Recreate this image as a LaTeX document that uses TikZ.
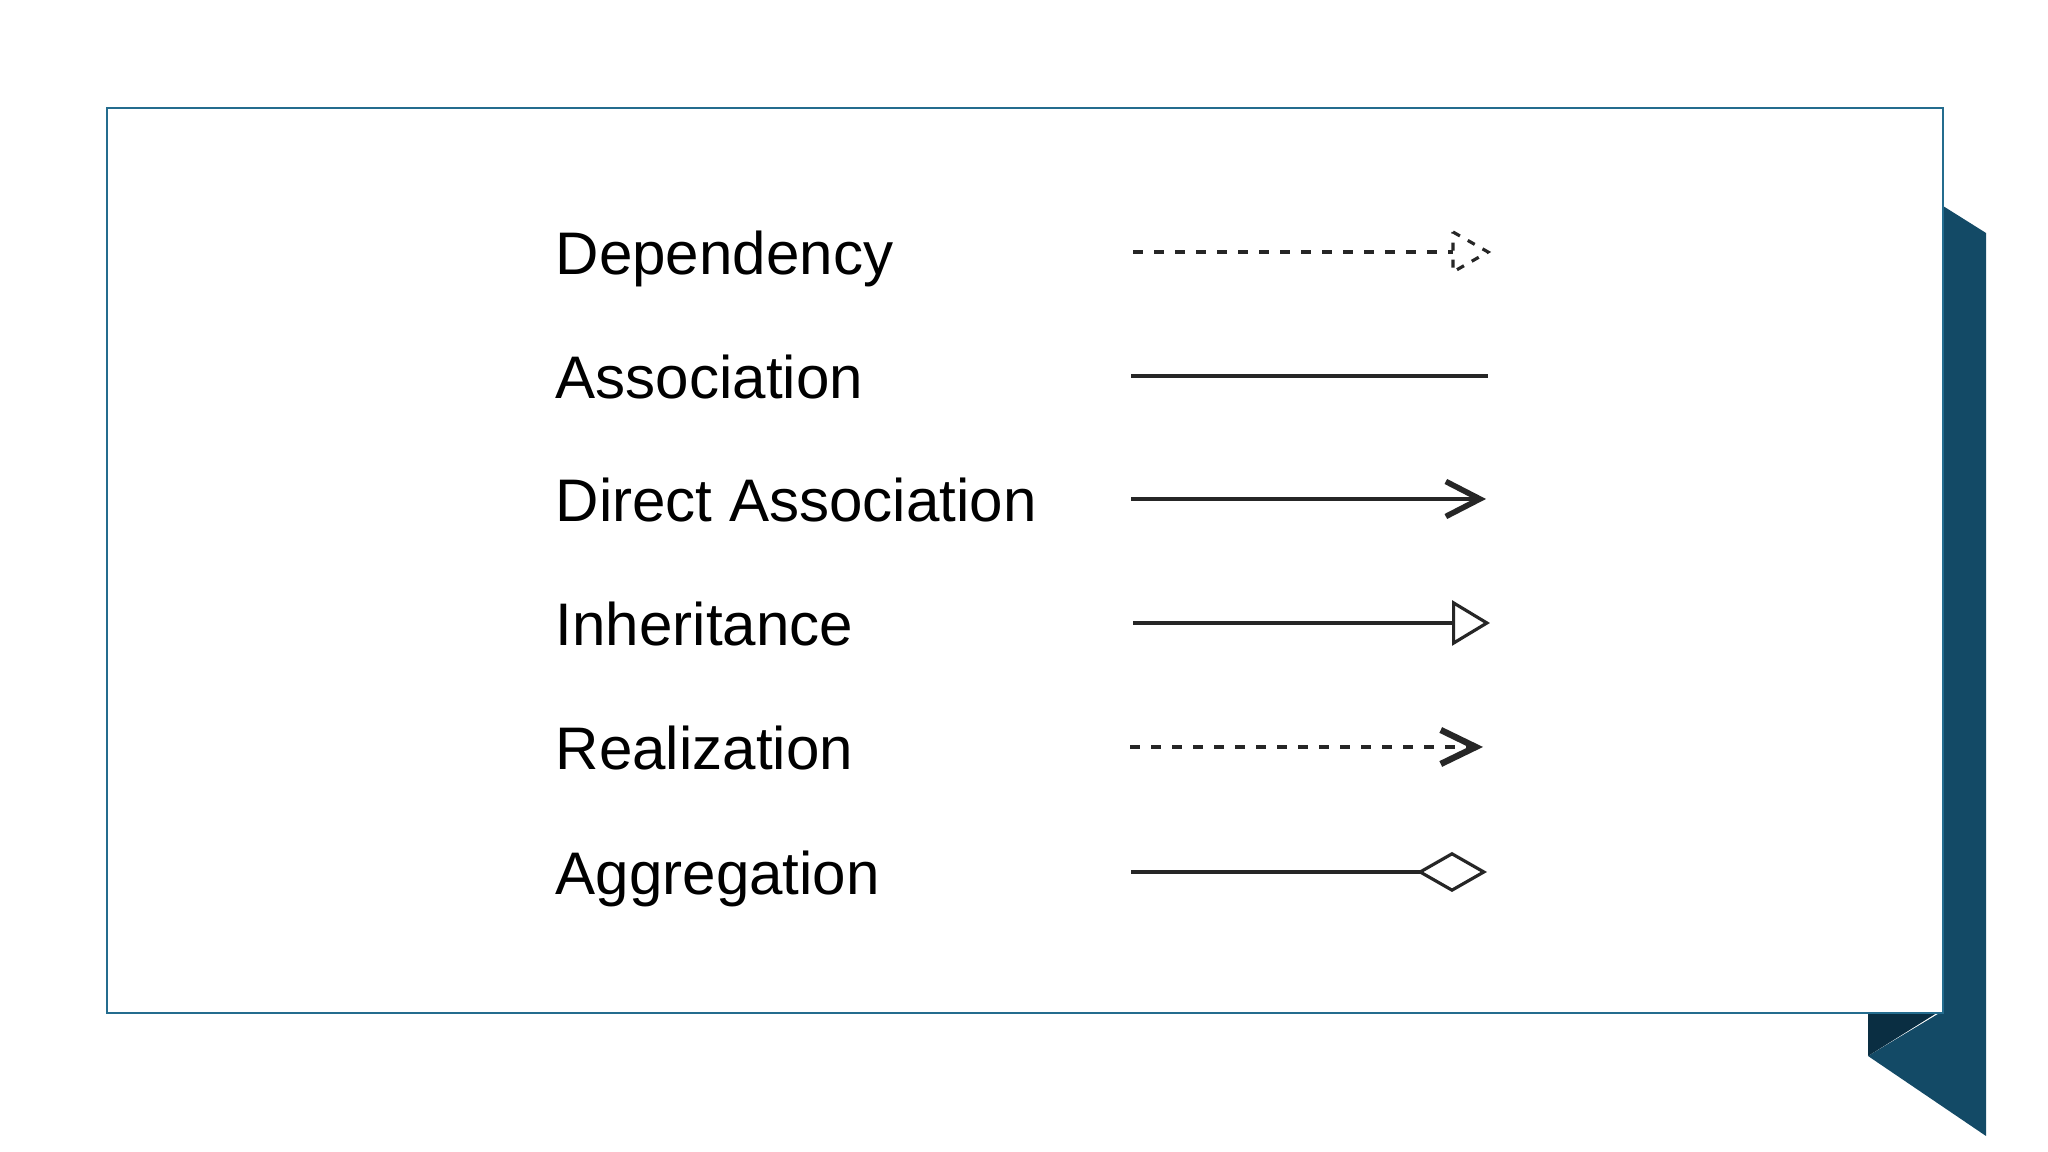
\documentclass[tikz,border=0pt]{standalone}
\usepackage{fontspec}
\setmainfont{Liberation Sans}
\usepackage{tikz}
\usetikzlibrary{positioning}
\usetikzlibrary{calc}
\usetikzlibrary{arrows.meta}
\definecolor{frameblue}{RGB}{36,108,142}
\definecolor{bandblue}{RGB}{19,74,102}
\definecolor{foldblue}{RGB}{10,46,66}
\tikzset{>=latex}
\tikzset{
  label/.style={anchor=base west, inner sep=0pt, font=\fontsize{17.1}{20}\selectfont},
  umlline/.style={line width=0.9pt, black!85},
  umldash/.style={umlline, dash pattern=on 1.0mm off 1.1mm},
}

\begin{document}
\begin{tikzpicture}

\useasboundingbox (0,0) rectangle (20.48,11.52);

% Folded ribbon behind the card
\fill[bandblue] (19.43,9.46) -- (19.86,9.19) -- (19.86,0.16) -- (18.68,0.96) -- (19.43,1.41) -- cycle;
\fill[foldblue] (18.68,1.41) -- (18.68,0.96) -- (19.40,1.41) -- cycle;

% Card
\draw[frameblue, line width=0.7pt, fill=white] (1.07,10.44) rectangle (19.43,1.39);

% Labels
\node[label] (dep) at (5.55,8.77) {Dependency};
\node[label] (asc) at (5.55,7.53) {Association};
\node[label] (dir) at (5.55,6.30) {Direct Association};
\node[label] (inh) at (5.55,5.06) {Inheritance};
\node[label] (rea) at (5.55,3.82) {Realization};
\node[label] (agg) at (5.55,2.57) {Aggregation};

% Line ends
\coordinate (dep-s) at (11.33,9.00);
\coordinate (dep-b) at (14.53,9.00);
\coordinate (dep-e) at (14.88,9.00);
\coordinate (asc-s) at (11.31,7.76);
\coordinate (asc-e) at (14.88,7.76);
\coordinate (dir-s) at (11.31,6.53);
\coordinate (dir-e) at (14.86,6.53);
\coordinate (inh-s) at (11.33,5.29);
\coordinate (inh-e) at (14.90,5.29);
\coordinate (rea-s) at (11.30,4.05);
\coordinate (rea-e) at (14.83,4.05);
\coordinate (agg-s) at (11.31,2.80);
\coordinate (agg-e) at (14.87,2.80);

% Dependency: dashed line, dashed open triangle
\draw[umldash] (dep-s) -- (dep-b);
\draw[umldash, dash pattern=on 0.8mm off 0.9mm] ($(dep-b)+(0,0.2)$) -- (dep-e) -- ($(dep-b)+(0,-0.2)$) -- cycle;

% Association
\draw[umlline] (asc-s) -- (asc-e);

% Direct association
\draw[umlline, -{Straight Barb[length=3.4mm, width=3.5mm, line width=1.6pt]}] (dir-s) -- (dir-e);

% Inheritance
\draw[umlline, -{Triangle[open, length=3.8mm, width=4.5mm]}] (inh-s) -- (inh-e);

% Realization
\draw[umldash, line width=1.1pt, -{Straight Barb[length=3.5mm, width=3.4mm, line width=1.8pt]}] (rea-s) -- (rea-e);

% Aggregation
\draw[umlline, -{Diamond[open, length=7mm, width=4mm]}] (agg-s) -- (agg-e);

\end{tikzpicture}
\end{document}
